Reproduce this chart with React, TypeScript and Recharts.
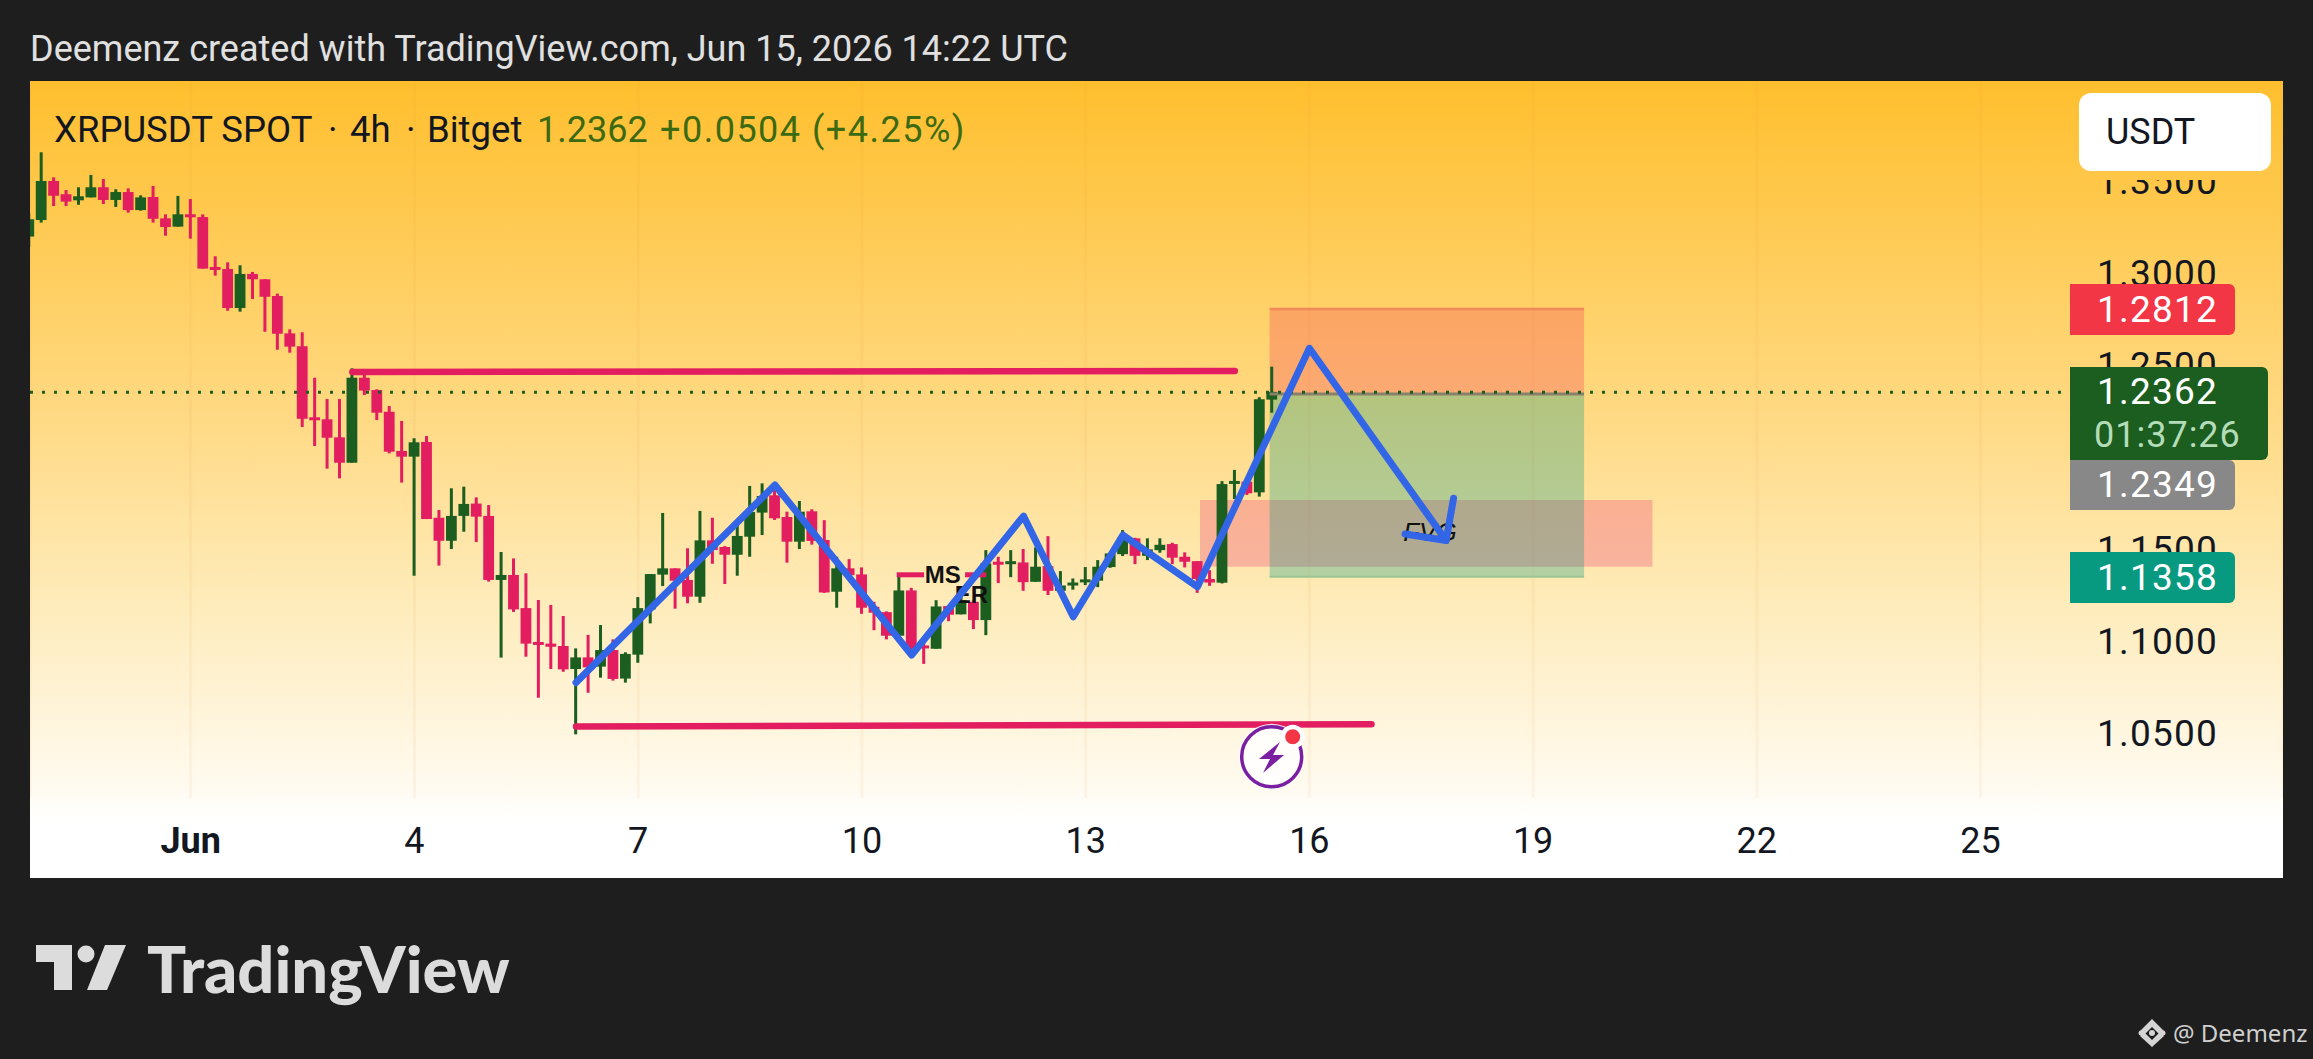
import React from 'react';
import { ComposedChart, Bar, Scatter, XAxis, YAxis, CartesianGrid, ReferenceArea, ReferenceLine, ReferenceDot } from 'recharts';

const firstCandle = -13;
const highs = [1.3324,1.3656,1.3520,1.3451,1.3466,1.3533,1.3511,1.3455,1.3460,1.3422,1.3473,1.3319,1.3419,1.3402,1.3319,1.3091,1.3058,1.3042,1.3006,1.2967,1.2888,1.2694,1.2678,1.2431,1.2315,1.2315,
  1.2482,1.2455,1.2368,1.2277,1.2196,1.2102,1.2114,1.1712,1.1830,1.1839,1.1781,1.1739,1.1484,1.1449,1.1368,1.1223,1.1196,1.1136,1.0960,1.1033,1.1087,1.1009,1.0939,1.1239,1.1364,1.1696,1.1395,1.1504,1.1707,1.1670,1.1516,1.1649,1.1843,1.1857,1.1857,1.1703,1.1761,1.1716,
  1.1657,1.1458,1.1445,1.1400,1.1213,1.1161,1.1367,1.1289,1.1023,1.1222,1.1195,1.1241,1.1222,1.1494,1.1458,1.1494,1.1500,1.1509,1.1570,1.1380,1.1340,1.1402,1.1440,1.1482,1.1603,1.1561,1.1558,1.1558,1.1534,1.1482,1.1434,1.1385,1.1869,1.1930,1.1866,1.2325,1.2491];
const lows = [1.3143,1.3274,1.3364,1.3364,1.3371,1.3411,1.3375,1.3359,1.3328,1.3339,1.3274,1.3203,1.3252,1.3187,1.3024,1.2986,1.2795,1.2790,1.2859,1.2681,1.2583,1.2567,1.2163,1.2060,1.1937,1.1884,
  1.1969,1.2337,1.2201,1.2020,1.1861,1.1355,1.1663,1.1410,1.1500,1.1594,1.1538,1.1323,1.0910,1.1158,1.0915,1.0692,1.0848,1.0833,1.0493,1.0719,1.0801,1.0785,1.0774,1.0882,1.1096,1.1299,1.1176,1.1205,1.1208,1.1420,1.1310,1.1355,1.1458,1.1576,1.1658,1.1426,1.1500,1.1524,
  1.1262,1.1181,1.1344,1.1148,1.1059,1.1009,1.1029,1.0954,1.0876,1.0958,1.1108,1.1145,1.1065,1.1032,1.1315,1.1347,1.1273,1.1322,1.1250,1.1268,1.1279,1.1304,1.1293,1.1398,1.1462,1.1418,1.1440,1.1480,1.1418,1.1400,1.1262,1.1300,1.1313,1.1772,1.1794,1.1785,1.2241];
const opens = [1.3198,1.3288,1.3500,1.3428,1.3395,1.3411,1.3466,1.3397,1.3440,1.3342,1.3413,1.3297,1.3252,1.3319,1.3304,1.3033,1.3022,1.2810,1.2995,1.2966,1.2875,1.2672,1.2602,1.2216,1.2205,1.2107,
  1.1969,1.2431,1.2364,1.2246,1.2033,1.2002,1.2082,1.1670,1.1545,1.1680,1.1747,1.1680,1.1332,1.1359,1.1179,1.0995,1.0986,1.0973,1.0848,1.0911,1.0861,1.0951,1.0796,1.0926,1.1172,1.1361,1.1395,1.1332,1.1241,1.1547,1.1511,1.1469,1.1567,1.1698,1.1792,1.1674,1.1540,1.1705,
  1.1549,1.1268,1.1395,1.1362,1.1186,1.1157,1.1029,1.1275,1.0976,1.0958,1.1190,1.1145,1.1213,1.1114,1.1431,1.1420,1.1427,1.1322,1.1407,1.1273,1.1308,1.1322,1.1328,1.1402,1.1472,1.1558,1.1463,1.1494,1.1527,1.1458,1.1434,1.1337,1.1317,1.1854,1.1866,1.1808,1.2312];
const closes = [1.3292,1.3500,1.3420,1.3388,1.3417,1.3466,1.3397,1.3440,1.3342,1.3411,1.3295,1.3250,1.3319,1.3304,1.3024,1.3018,1.2810,1.2995,1.2966,1.2871,1.2670,1.2600,1.2208,1.2201,1.2105,1.1969,
  1.2431,1.2361,1.2241,1.2029,1.2002,1.2080,1.1663,1.1545,1.1680,1.1745,1.1676,1.1332,1.1359,1.1172,1.0986,1.0980,1.0969,1.0846,1.0911,1.0857,1.0951,1.0794,1.0930,1.1179,1.1364,1.1395,1.1328,1.1241,1.1547,1.1495,1.1469,1.1571,1.1701,1.1788,1.1667,1.1540,1.1703,1.1544,
  1.1264,1.1395,1.1358,1.1181,1.1154,1.1029,1.1275,1.0960,1.0962,1.1188,1.1143,1.1222,1.1114,1.1422,1.1416,1.1434,1.1320,1.1404,1.1273,1.1302,1.1318,1.1335,1.1404,1.1476,1.1563,1.1463,1.1498,1.1523,1.1453,1.1431,1.1337,1.1318,1.1853,1.1870,1.1803,1.2314,1.2354];

const zigzagK = [31,47,58,67,71,75,81,90,101,97.7,101,101.6];
const zigzagP = [1.0775,1.1848,1.0924,1.1679,1.1132,1.1576,1.1295,1.2591,1.1546,1.1582,1.1546,1.1776];

const xTicks = [0,18,36,54,72,90,108,126,144];
const xLabels = ['Jun','4','7','10','13','16','19','22','25'];
const yTicks = [1.05,1.10,1.15,1.20,1.25,1.30,1.35];

const title = 'Deemenz created with TradingView.com, Jun 15, 2026 14:22 UTC';
const symbolParts = ['XRPUSDT SPOT', '\u00b7', '4h', '\u00b7', 'Bitget'];
const lastPrice = '1.2362';
const changeText = '+0.0504 (+4.25%)';
const countdown = '01:37:26';
const stopTag = '1.2812';
const entryTag = '1.2349';
const targetTag = '1.1358';

const resistance = { k1: 13, k2: 84, p1: 1.2462, p2: 1.2468 };
const support = { k1: 31, k2: 95, p1: 1.0535, p2: 1.0548 };
const currentLine = { k2: 150.5, p: 1.2352 };
const msLine = { k1: 56.8, k2: 59, k3: 62.3, k4: 64, p: 1.136 };
const stopBox = { k1: 86.8, k2: 112.1, p1: 1.2805, p2: 1.2343 };
const targetBox = { k1: 86.8, k2: 112.1, p1: 1.2343, p2: 1.135 };
const fvgBox = { k1: 81.2, k2: 117.6, p1: 1.1767, p2: 1.1404 };

const rows = opens.map((o, i) => ({ k: firstCandle + i, o, h: highs[i], l: lows[i], c: closes[i] }));
const zigzag = zigzagK.map((k, i) => ({ k, p: zigzagP[i] }));

const UP = '#1b5e20';
const DOWN = '#e21d60';
const FONT = 'Roboto, sans-serif';

function Candle(props: any) {
  const { x, y, width, height, payload } = props;
  const { o, h, l, c } = payload;
  const fill = c >= o ? UP : DOWN;
  const at = (v: number) => y + ((h - v) / (h - l)) * height;
  const top = at(Math.max(o, c));
  const bot = at(Math.min(o, c));
  const mid = x + width / 2;
  return (
    <g>
      <rect x={mid - 1.5} y={y} width={3} height={height} fill={fill} />
      <rect x={mid - 5.4} y={top} width={10.8} height={Math.max(bot - top, 3)} fill={fill} />
    </g>
  );
}

function XTick(props: any) {
  const { x, y, payload } = props;
  const i = xTicks.indexOf(payload.value);
  const bold = i === 0;
  return (
    <text x={x} y={y} textAnchor="middle" dominantBaseline="central" fontFamily={FONT} fontSize={36} fontWeight={bold ? 700 : 400} fill="#131722">
      {xLabels[i]}
    </text>
  );
}

function TextMark(props: any) {
  const { viewBox, value, italic, size, weight } = props;
  return (
    <text x={viewBox.x} y={viewBox.y} textAnchor="middle" dominantBaseline="central" fontFamily="Liberation Sans, Arial, sans-serif" fontStyle={italic ? 'italic' : 'normal'} fontWeight={weight} fontSize={size} fill="#111">
      {value}
    </text>
  );
}

function Tag({ top, height, width = 165, bg, text }: { top: number; height: number; width?: number; bg: string; text: string }) {
  return (
    <div style={{ position: 'absolute', left: 2070, top, width, height, background: bg, borderRadius: '0 6px 6px 0', color: '#fff', fontFamily: FONT, fontSize: 37, lineHeight: `${height}px`, paddingLeft: 27, boxSizing: 'border-box', letterSpacing: 1.2 }}>
      {text}
    </div>
  );
}

const symbolLefts = [54, 328, 350, 406, 427];

export default function App() {
  return (
    <div style={{ position: 'absolute', left: 0, top: 0, width: 2313, height: 1059, background: '#1e1e1e', overflow: 'hidden' }}>
      <div style={{ position: 'absolute', left: 30, top: 27, color: '#e0e0e0', fontFamily: FONT, fontSize: 36, lineHeight: '44px', whiteSpace: 'nowrap' }}>{title}</div>

      <div style={{ position: 'absolute', left: 30, top: 81, width: 2253, height: 797, overflow: 'hidden', background: 'linear-gradient(180deg,#ffbf2e 0%,#ffd87f 40%,#feebb9 65%,#fffaee 88%,#ffffff 93%)' }}>
        <ComposedChart width={2253} height={797} data={rows} margin={{ top: 0, right: 0, bottom: 0, left: 0 }}>
          <CartesianGrid horizontal={false} stroke="rgba(225,140,60,0.07)" strokeWidth={3} />
          <XAxis dataKey="k" type="number" domain={[-12.93, 168.33]} allowDataOverflow ticks={xTicks} interval={0} height={80} tickLine={false} tickSize={0} tickMargin={43} axisLine={false} tick={<XTick />} />
          <YAxis orientation="right" mirror type="number" domain={[1.0147, 1.40435]} allowDataOverflow ticks={yTicks} interval={0} tickLine={false} tickSize={0} tickMargin={65} axisLine={false} tickFormatter={(v: number) => v.toFixed(4)} tick={{ fontFamily: FONT, fontSize: 37, fill: '#131722', letterSpacing: 1.2 }} />

          <ReferenceArea x1={fvgBox.k1} x2={fvgBox.k2} y1={fvgBox.p1} y2={fvgBox.p2} fill="rgb(240,60,120)" fillOpacity={0.3} stroke="none" />
          <ReferenceArea x1={stopBox.k1} x2={stopBox.k2} y1={stopBox.p1} y2={stopBox.p2} fill="rgb(244,67,90)" fillOpacity={0.3} stroke="none" />
          <ReferenceArea x1={targetBox.k1} x2={targetBox.k2} y1={targetBox.p1} y2={targetBox.p2} fill="rgb(8,153,129)" fillOpacity={0.3} stroke="none" />
          <ReferenceLine segment={[{ x: stopBox.k1, y: stopBox.p1 }, { x: stopBox.k2, y: stopBox.p1 }]} stroke="#f0895a" strokeWidth={2.5} />
          <ReferenceLine segment={[{ x: stopBox.k1, y: stopBox.p2 }, { x: stopBox.k2, y: stopBox.p2 }]} stroke="#87806a" strokeWidth={3} />
          <ReferenceLine segment={[{ x: targetBox.k1, y: targetBox.p2 }, { x: targetBox.k2, y: targetBox.p2 }]} stroke="#9cc596" strokeWidth={2} />

          <ReferenceLine segment={[{ x: resistance.k1, y: resistance.p1 }, { x: resistance.k2, y: resistance.p2 }]} stroke={DOWN} strokeWidth={6.5} strokeLinecap="round" />
          <ReferenceLine segment={[{ x: support.k1, y: support.p1 }, { x: support.k2, y: support.p2 }]} stroke={DOWN} strokeWidth={6.5} strokeLinecap="round" />
          <ReferenceLine segment={[{ x: msLine.k1, y: msLine.p }, { x: msLine.k2, y: msLine.p }]} stroke={DOWN} strokeWidth={5} />
          <ReferenceLine segment={[{ x: msLine.k3, y: msLine.p }, { x: msLine.k4, y: msLine.p }]} stroke={DOWN} strokeWidth={5} />
          <ReferenceDot x={60.5} y={1.136} r={0} fill="none" stroke="none" label={<TextMark value="MS" size={24} weight={700} />} />
          <ReferenceDot x={62.8} y={1.1255} r={0} fill="none" stroke="none" label={<TextMark value="ER" size={24} weight={700} />} />
          <ReferenceDot x={99.7} y={1.1592} r={0} fill="none" stroke="none" label={<TextMark value="FVG" size={26} italic weight={400} />} />

          <Scatter data={zigzag} dataKey="p" shape={() => null} line={{ stroke: '#3366e6', strokeWidth: 7, strokeLinejoin: 'round', strokeLinecap: 'round' } as any} isAnimationActive={false} />
          <Bar dataKey={(d: any) => [d.l, d.h]} barSize={11} shape={<Candle />} isAnimationActive={false} />
          <ReferenceLine segment={[{ x: -12.93, y: currentLine.p }, { x: currentLine.k2, y: currentLine.p }]} stroke={UP} strokeWidth={3} strokeDasharray="3 9" />
        </ComposedChart>
      </div>

      {symbolParts.map((s, i) => (
        <div key={i} style={{ position: 'absolute', left: symbolLefts[i], top: 108, height: 44, lineHeight: '44px', fontFamily: FONT, fontSize: 36.5, color: '#131722', whiteSpace: 'nowrap' }}>{s}</div>
      ))}
      <div style={{ position: 'absolute', left: 537, top: 108, height: 44, lineHeight: '44px', fontFamily: FONT, fontSize: 36, color: '#3c6a12', whiteSpace: 'nowrap' }}>{lastPrice}</div>
      <div style={{ position: 'absolute', left: 660, top: 108, height: 44, lineHeight: '44px', fontFamily: FONT, fontSize: 36, letterSpacing: 1.5, color: '#3c6a12', whiteSpace: 'nowrap' }}>{changeText}</div>

      <div style={{ position: 'absolute', left: 2079, top: 160, width: 192, height: 20, background: '#ffc647' }} />
      <div style={{ position: 'absolute', left: 2079, top: 93, width: 192, height: 78, borderRadius: 12, background: '#fff', fontFamily: FONT, fontSize: 36, lineHeight: '78px', paddingLeft: 27, boxSizing: 'border-box', color: '#131722' }}>USDT</div>

      <Tag top={284} height={51} bg="#f23645" text={stopTag} />
      <div style={{ position: 'absolute', left: 2070, top: 367, width: 198, height: 93, background: '#1b5e20', borderRadius: '0 6px 6px 0', fontFamily: FONT }}>
        <div style={{ position: 'absolute', left: 27, top: 2, fontSize: 37, lineHeight: '46px', color: '#fff', letterSpacing: 1.2 }}>{lastPrice}</div>
        <div style={{ position: 'absolute', left: 24, top: 45, fontSize: 36, lineHeight: '46px', color: '#b5dcb8', letterSpacing: 1 }}>{countdown}</div>
      </div>
      <Tag top={460} height={50} bg="#888888" text={entryTag} />
      <Tag top={552} height={51} bg="#089981" text={targetTag} />

      <svg style={{ position: 'absolute', left: 0, top: 0 }} width={2313} height={1059}>
        <circle cx={1271.7} cy={756.7} r={33} fill="#fff" fillOpacity={0.85} />
        <circle cx={1271.7} cy={756.7} r={30} fill="none" stroke="#7b1fa2" strokeWidth={3.5} />
        <circle cx={1292.7} cy={736.7} r={12} fill="#fff" />
        <circle cx={1292.7} cy={736.7} r={7.5} fill="#f23645" />
        <polygon points="1280,742 1259,759 1270,759 1263,773 1284,755 1273,755" fill="#7b1fa2" />
        <g fill="#dcdcdc">
          <polygon points="36,945 72,945 72,990 54,990 54,962 36,962" />
          <circle cx={86} cy={954} r={8.5} />
          <polygon points="126,945 105,945 87,990 107,990" />
        </g>
        <g fill="#d4d4d4">
          <polygon points="2152,1019 2164,1031 2160,1035 2152,1027 2144,1035 2140,1031" />
          <polygon points="2152,1047 2140,1036 2144,1032 2152,1040 2160,1032 2164,1036" />
          <circle cx={2152} cy={1033} r={3} />
          <circle cx={2141} cy={1033} r={2.5} />
          <circle cx={2163} cy={1033} r={2.5} />
        </g>
      </svg>
      <div style={{ position: 'absolute', left: 147, top: 930, fontFamily: 'Lato, sans-serif', fontWeight: 900, fontSize: 65, lineHeight: '76px', color: '#dcdcdc', whiteSpace: 'nowrap' }}>TradingView</div>
      <div style={{ position: 'absolute', left: 2173, top: 1016, fontFamily: '"Noto Sans", sans-serif', fontSize: 24, lineHeight: '34px', color: '#cfcfcf', whiteSpace: 'nowrap' }}>@ Deemenz</div>
    </div>
  );
}
